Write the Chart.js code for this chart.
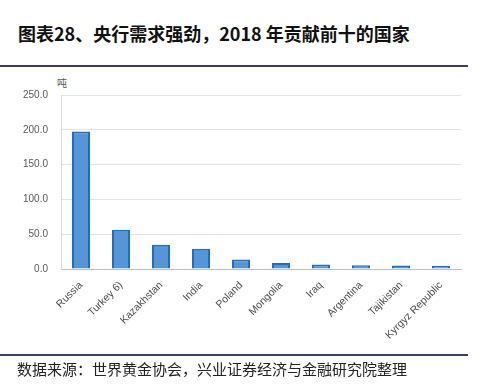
<!DOCTYPE html>
<html>
<head>
<meta charset="utf-8">
<script src="https://cdn.jsdelivr.net/npm/chart.js@4.4.1/dist/chart.umd.min.js"></script>
<style>
  body { margin: 0; background: #fff; width: 500px; height: 392px; position: relative; overflow: hidden; }
  #title { position: absolute; left: 18px; top: 20px; font: bold 18px "Noto Sans CJK SC", sans-serif; color: #111; white-space: nowrap; }
  .rule { position: absolute; left: 0; width: 468px; height: 2px; background: #3d3b6b; }
  #unit { position: absolute; left: 57px; top: 75px; font: 10px "Noto Sans CJK SC", sans-serif; color: #595959; }
  #wrap { position: absolute; left: 0; top: 70px; width: 470px; height: 285px; }
  #source { position: absolute; left: 17px; top: 358px; font: 15px "Noto Sans CJK SC", sans-serif; color: #222; white-space: nowrap; }
</style>
</head>
<body>
<div id="title">图表28、央行需求强劲，2018 年贡献前十的国家</div>
<div class="rule" style="top:65px"></div>
<div id="unit">吨</div>
<div id="wrap"><canvas id="chart_centralBankTop10"></canvas></div>
<div class="rule" style="top:354px"></div>
<div id="source">数据来源：世界黄金协会，兴业证券经济与金融研究院整理</div>
<script>
// countries, as labelled on the x axis
var countries = ['Russia', 'Turkey 6)', 'Kazakhstan', 'India', 'Poland', 'Mongolia', 'Iraq', 'Argentina', 'Tajikistan', 'Kyrgyz Republic'];
// tonnes
var tonnes = [197.5, 56.5, 35.0, 29.0, 13.5, 8.5, 6.5, 5.5, 5.0, 4.2];
var yTicks = [0, 50, 100, 150, 200, 250];

var chart_centralBankTop10 = new Chart(document.getElementById('chart_centralBankTop10'), {
    type: 'bar',
    data: {
        labels: countries,
        datasets: [
            {
                label: '吨',
                data: tonnes,
                backgroundColor: '#5796d6',
                borderColor: '#1f6fc0',
                borderWidth: 2,
                categoryPercentage: 1,
                barPercentage: 0.45
            }
        ]
    },
    options: {
        animation: false,
        responsive: true,
        maintainAspectRatio: false,
        layout: { padding: { top: 25, right: 9, left: 0, bottom: 0 } },
        plugins: {
            legend: { display: false },
            tooltip: { enabled: false }
        },
        scales: {
            x: {
                grid: { display: false },
                border: { color: '#bfbfbf', width: 1 },
                ticks: {
                    color: '#4d4d4d',
                    font: { family: 'Liberation Sans', size: 10.5 },
                    minRotation: 45,
                    maxRotation: 45,
                    padding: 2
                },
                afterFit: function (scale) { scale.height = 86; }
            },
            y: {
                min: 0,
                max: 250,
                afterBuildTicks: function (scale) {
                    scale.ticks = yTicks.map(function (v) { return { value: v }; });
                },
                grid: { color: '#e3e3e3', drawTicks: false },
                border: { color: '#d9d9d9' },
                ticks: {
                    color: '#595959',
                    font: { family: 'Liberation Sans', size: 10 },
                    padding: 13,
                    callback: function (v) { return v.toFixed(1); }
                },
                afterFit: function (scale) { scale.width = 61; }
            }
        }
    }
});
</script>
</body>
</html>
